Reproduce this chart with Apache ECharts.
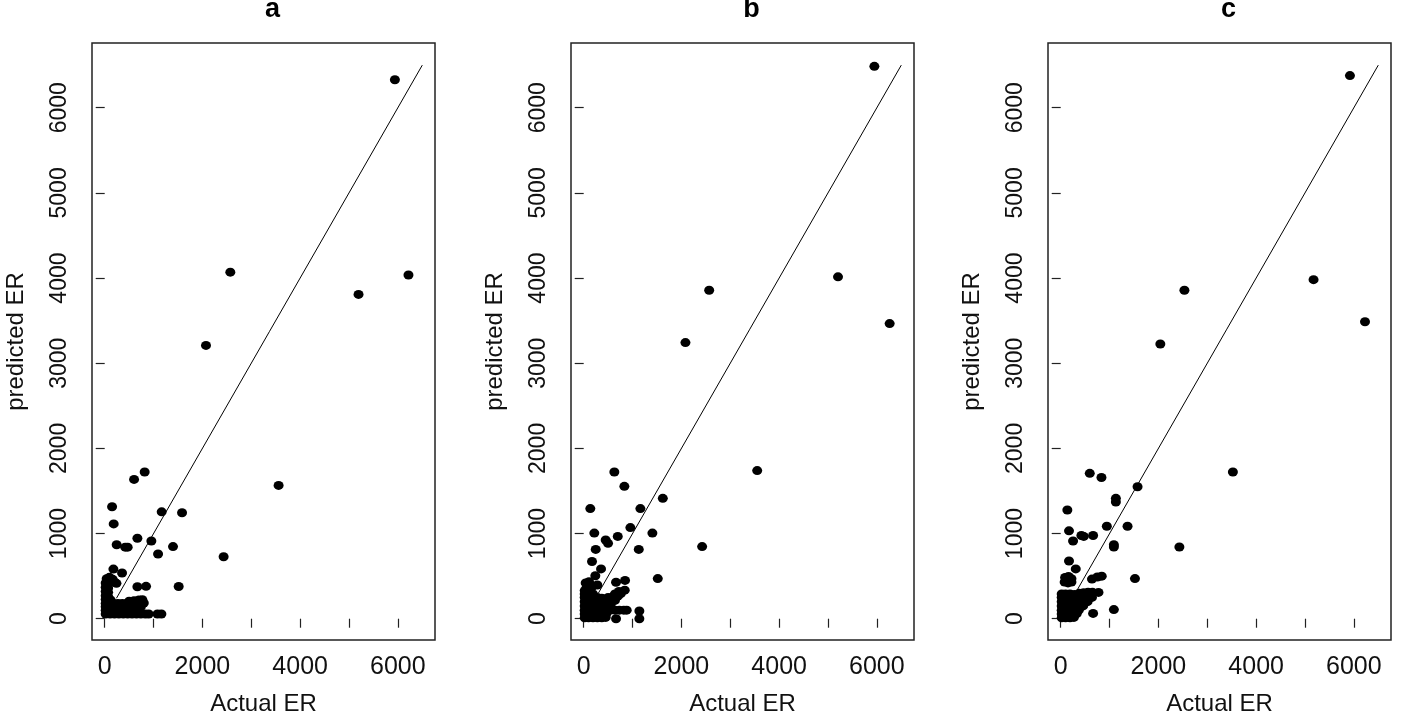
<!DOCTYPE html>
<html>
<head>
<meta charset="utf-8">
<title>Actual vs predicted ER</title>
<script src="https://cdn.jsdelivr.net/npm/echarts@6/dist/echarts.min.js"></script>
<style>
  html, body { margin: 0; padding: 0; background: #fff; }
  #chart { width: 1409px; height: 727px; }
</style>
</head>
<body>
<div id="chart"></div>
<script>
// 坐标刻度
var xTicks = [0, 1000, 2000, 3000, 4000, 5000, 6000];
var xLabels = [0, 2000, 4000, 6000];
var yTicks = [0, 1000, 2000, 3000, 4000, 5000, 6000];
var panelTitles = ['a', 'b', 'c'];

// 面板 a: [Actual ER, predicted ER]
var panelA = [
    [5939, 6328], [2571, 4069], [6217, 4036], [5195, 3808], [2073, 3209], [3559, 1565],
    [818, 1723], [601, 1636], [151, 1315], [184, 1113], [1166, 1255], [1583, 1244],
    [669, 945], [245, 869], [420, 840], [470, 840], [955, 912], [1092, 760], [1398, 847],
    [2434, 727], [178, 583], [355, 537], [669, 375], [846, 380], [1514, 378], [1080, 55], [1160, 55],
    [96, 486], [164, 462], [40, 470], [120, 440], [200, 430], [240, 415],
    [20, 420], [70, 410], [20, 370], [70, 360], [20, 320], [70, 310], [20, 270], [70, 260],
    [20, 225], [80, 225], [120, 220], [500, 205], [600, 212], [700, 220], [770, 222],
    [20, 180], [100, 180], [180, 180], [270, 180], [360, 180], [450, 180], [540, 175],
    [630, 180], [720, 180], [800, 185],
    [20, 140], [110, 140], [200, 140], [290, 140], [380, 140], [470, 140], [560, 140],
    [650, 140], [740, 140],
    [20, 100], [110, 100], [200, 100], [290, 100], [380, 100], [470, 100], [560, 100], [650, 100],
    [20, 55], [110, 55], [200, 55], [290, 55], [380, 55], [470, 55], [560, 55], [650, 55],
    [740, 55], [830, 55], [900, 55]
];

// 面板 b
var panelB = [
    [5949, 6486], [5205, 4014], [6262, 3465], [2568, 3857], [2082, 3242], [3551, 1739],
    [627, 1723], [832, 1554], [1619, 1413], [135, 1293], [1160, 1293], [217, 1005],
    [955, 1070], [1406, 1005], [697, 966], [450, 924], [498, 885], [246, 814], [1127, 814],
    [2424, 847], [170, 672], [355, 585], [238, 504], [662, 428], [846, 450], [1516, 471],
    [1139, 90], [1139, 0], [662, 0],
    [109, 435], [279, 396], [40, 420], [180, 380], [60, 370],
    [20, 330], [110, 330], [720, 320], [840, 335],
    [20, 290], [100, 290], [190, 290], [640, 290], [760, 295],
    [20, 250], [100, 250], [190, 250], [280, 250], [370, 240], [500, 250], [600, 260], [700, 265],
    [20, 200], [100, 200], [190, 200], [280, 200], [370, 200], [460, 200], [550, 210], [640, 215],
    [20, 150], [100, 150], [190, 150], [280, 150], [370, 150], [460, 150], [550, 160],
    [20, 100], [100, 100], [190, 100], [280, 100], [370, 100], [460, 100], [550, 100],
    [640, 100], [730, 100], [820, 100], [880, 100],
    [20, 55], [100, 55], [190, 55], [280, 55], [370, 55], [460, 55],
    [20, 10], [100, 10], [190, 10], [280, 10], [370, 10], [450, 15]
];

// 面板 c
var panelC = [
    [5920, 6377], [5175, 3981], [6228, 3487], [2532, 3857], [2039, 3225], [3524, 1723],
    [595, 1707], [834, 1658], [1573, 1549], [1129, 1413], [1129, 1370], [136, 1276],
    [944, 1086], [1368, 1086], [170, 1032], [423, 977], [472, 966], [663, 977], [253, 912],
    [1088, 869], [1088, 842], [2429, 842], [170, 677], [308, 585], [1520, 471],
    [1088, 107], [663, 62],
    [80, 430], [150, 420], [220, 430], [90, 485], [160, 495], [220, 470],
    [640, 465], [750, 490], [840, 500], [773, 309],
    [20, 290], [100, 290], [190, 290], [280, 285], [380, 300], [470, 305], [560, 310], [650, 310],
    [20, 250], [100, 250], [190, 250], [280, 250], [370, 250], [460, 250], [550, 250], [640, 250],
    [20, 200], [100, 200], [190, 200], [280, 200], [370, 200], [460, 200], [550, 200],
    [20, 150], [100, 150], [190, 150], [280, 150], [370, 150], [460, 150],
    [20, 100], [100, 100], [190, 100], [280, 100], [370, 100],
    [20, 55], [100, 55], [190, 55], [280, 55], [330, 60],
    [20, 10], [100, 10], [190, 10], [270, 15]
];

// 参考线
var fitA = [[240, 240], [6500, 6500]];
var fitB = [[300, 300], [6500, 6500]];
var fitC = [[300, 300], [6500, 6500]];

var panels = [panelA, panelB, panelC];
var fits = [fitA, fitB, fitC];
var lefts = [92, 571, 1048];
var boxW = 343;

var font = '"Liberation Sans", Arial, sans-serif';
var plain = function (v) { return String(v); };
var grid = [], xAxis = [], yAxis = [], series = [], title = [];

for (var i = 0; i < 3; i++) {
    grid.push({
        left: lefts[i], top: 43, width: boxW, height: 597,
        show: true, borderColor: '#222', borderWidth: 1.5, backgroundColor: '#fff'
    });
    title.push({
        text: panelTitles[i],
        left: lefts[i] + boxW / 2 + 4,
        top: -9,
        textAlign: 'center',
        textStyle: { fontFamily: font, fontSize: 27, fontWeight: 'bold', color: '#000' }
    });
    xAxis.push({
        type: 'value', gridIndex: i, min: -260, max: 6760,
        name: 'Actual ER', nameLocation: 'middle', nameGap: 52,
        nameTextStyle: { fontFamily: font, fontSize: 24, color: '#111' },
        axisLine: { show: false },
        axisTick: { show: true, customValues: xTicks, length: 9, lineStyle: { color: '#222', width: 1.2 } },
        axisLabel: { customValues: xLabels, formatter: plain, margin: 15, fontFamily: font, fontSize: 25, color: '#111' },
        splitLine: { show: false }
    });
    yAxis.push({
        type: 'value', gridIndex: i, min: -250, max: 6760,
        name: 'predicted ER', nameLocation: 'middle', nameGap: 64, nameRotate: 90,
        nameTextStyle: { fontFamily: font, fontSize: 24, color: '#111' },
        axisLine: { show: false },
        axisTick: { show: true, customValues: yTicks, length: 9, lineStyle: { color: '#222', width: 1.2 } },
        axisLabel: { customValues: yTicks, formatter: plain, rotate: 90, margin: 21, fontFamily: font, fontSize: 23, color: '#111' },
        splitLine: { show: false }
    });
    series.push({
        type: 'scatter', xAxisIndex: i, yAxisIndex: i,
        data: panels[i], symbol: 'circle', symbolSize: [10, 9],
        itemStyle: { color: '#000', opacity: 1 }
    });
    series.push({
        type: 'line', xAxisIndex: i, yAxisIndex: i,
        data: fits[i], symbol: 'none',
        lineStyle: { color: '#000', width: 1 }
    });
}

var myChart = echarts.init(document.getElementById('chart'));
myChart.setOption({
    animation: false,
    backgroundColor: '#fff',
    title: title,
    grid: grid,
    xAxis: xAxis,
    yAxis: yAxis,
    series: series
});
</script>
</body>
</html>
